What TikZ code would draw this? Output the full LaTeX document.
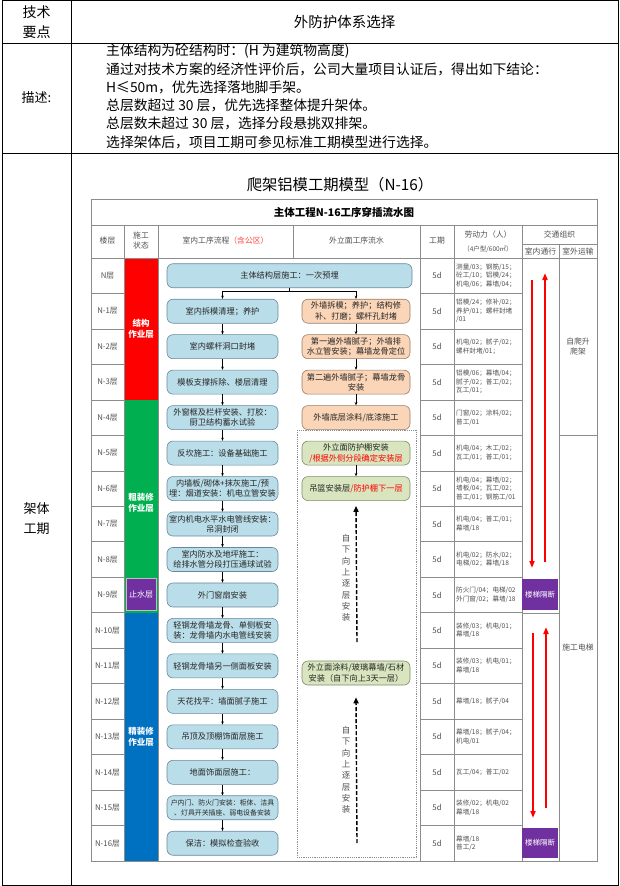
\documentclass[tikz,border=0pt]{standalone}
\usepackage{fontspec}
\setmainfont{Noto Sans CJK SC}
\usetikzlibrary{arrows.meta,calc,positioning}
\definecolor{rulec}{RGB}{140,140,140}
\definecolor{txt}{RGB}{80,80,80}
\definecolor{inbox}{RGB}{186,222,233}
\definecolor{inedge}{RGB}{105,135,155}
\definecolor{outbox}{RGB}{251,213,183}
\definecolor{outedge}{RGB}{150,125,105}
\definecolor{grbox}{RGB}{216,229,190}
\definecolor{gredge}{RGB}{125,140,105}
\definecolor{stred}{RGB}{255,0,0}
\definecolor{stgreen}{RGB}{0,176,80}
\definecolor{stblue}{RGB}{0,112,192}
\definecolor{stpurple}{RGB}{112,48,160}
\tikzset{
  outline/.style={black,line width=0.9pt},
  gline/.style={rulec,line width=0.6pt},
  cell/.style={font=\fontsize{7.8}{10}\selectfont,text=txt,align=center,inner sep=0pt},
  labour/.style={font=\fontsize{6.6}{8.6}\selectfont,text=txt,align=left,anchor=west,inner sep=0pt},
  flowbox/.style={draw=inedge,fill=inbox,rounded corners=6pt,line width=0.6pt,minimum width=111pt,minimum height=24pt,inner xsep=1pt,inner ysep=1pt,align=center,text=black!85,font=\fontsize{8.2}{10.5}\selectfont},
  outerbox/.style={flowbox,draw=outedge,fill=outbox,minimum width=108pt},
  greenbox/.style={flowbox,draw=gredge,fill=grbox,minimum width=108pt},
  arr/.style={-{Stealth[length=3.2pt,width=2.6pt]},black,line width=0.5pt},
  upward/.style={-{Triangle[length=6pt,width=5pt]},black,line width=1.4pt,dash pattern=on 4pt off 2pt},
  lane/.style={-{Triangle[length=7pt,width=5pt]},stred,line width=1.8pt},
  phase/.style={font=\fontsize{8.5}{11}\selectfont\bfseries,text=white,align=center,inner sep=0pt},
  stairs/.style={fill=stpurple,text=white,font=\fontsize{7.5}{9}\selectfont,inner sep=0pt,minimum width=36pt,minimum height=31pt},
  vtext/.style={font=\fontsize{8.5}{11.3}\selectfont,text=txt,align=center,inner sep=0pt},
  descline/.style={font=\fontsize{13.8}{16}\selectfont,anchor=west,inner sep=0pt},
}

\begin{document}
\begin{tikzpicture}[x=1pt,y=-1pt]
\useasboundingbox (0,0) rectangle (620,886);
% ---- outer table ----
\draw[outline] (2,0.5) rectangle (618,885);
\draw[outline] (2,43) -- (618,43);
\draw[outline] (2,153) -- (618,153);
\draw[outline] (71,0.5) -- (71,885);
\node[font=\fontsize{14}{20}\selectfont,align=center] (keypt) at (36.5,22) {技术\\要点};
\node[font=\fontsize{14.5}{18}\selectfont] (topic) at (344.5,22) {外防护体系选择};
\node[font=\fontsize{13}{18}\selectfont] (desc) at (36.5,98) {描述:};
\foreach \ln [count=\k] in {主体结构为砼结构时：(H 为建筑物高度),
  通过对技术方案的经济性评价后，公司大量项目认证后，得出如下结论：,
  H≤50m，优先选择落地脚手架。,
  总层数超过 30 层，优先选择整体提升架体。,
  总层数未超过 30 层，选择分段悬挑双排架。,
  选择架体后，项目工期可参见标准工期模型进行选择。}{
  \node[descline] (d\k) at (106,{32.8+18.2*\k}) {\ln};
}
\node[font=\fontsize{13}{20}\selectfont,align=center] (period) at (36.5,519) {架体\\工期};

% ---- inner chart ----
\def\rt{258}\def\rh{35.47}
\node[font=\fontsize{15.3}{18}\selectfont] (title) at (340,185) {爬架铝模工期模型（N-16）};
% status column
\fill[stred] (124,\rt) rectangle (158,{\rt+4*\rh});
\fill[stgreen] (124,{\rt+4*\rh}) rectangle (158,{\rt+10*\rh});
\fill[stblue] (124,{\rt+10*\rh}) rectangle (158,861);
\node[draw=white!75!black,line width=0.8pt,fill=stpurple,text=white,font=\fontsize{8}{10}\selectfont,inner sep=0pt,minimum width=30pt,minimum height=32pt] (seal) at (141,594) {止水层};
\node[phase] (s1) at (141,329) {结构\\作业层};
\node[phase] (s2) at (141,503) {粗装修\\作业层};
\node[phase] (s3) at (141,737) {精装修\\作业层};
% grid
\draw[gline] (91,199) rectangle (597,861);
\node[font=\fontsize{10.5}{12}\selectfont\bfseries] (chart) at (344,212) {主体工程N-16工序穿插流水图};
\draw[gline] (91,225) -- (597,225);
\draw[gline] (91,258) -- (597,258);
\foreach \x in {124,158,420,454,522} \draw[gline] (\x,225) -- (\x,861);
\draw[gline] (293,225) -- (293,258);
\draw[gline] (559,244) -- (559,861);
\draw[gline] (522,244) -- (597,244);
% header
\node[cell] (hfloor) at (107.5,241) {楼层};
\node[cell] (hstate) at (141,241) {施工\\状态};
\node[cell] (hin) at (225.5,241) {室内工序流程{\color{stred!75}（含公区）}};
\node[cell] (hout) at (356.5,241) {外立面工序流水};
\node[cell] (hdays) at (437,241) {工期};
\node[cell] (hlab) at (488,235) {劳动力（人）};
\node[cell,font=\fontsize{6.5}{8}\selectfont] (hlab2) at (488,249.5) {（4户型/600㎡）};
\node[cell] (htraf) at (559.5,234.5) {交通组织};
\node[cell] (hwalk) at (540.5,251.5) {室内通行};
\node[cell] (hhaul) at (578,251.5) {室外运输};

% rows: floor, duration, labour
\foreach \lab/\crew [count=\i from 0] in {%
  N层/{测量/03；钢筋/15；\\砼工/10；铝模/24；\\机电/06；幕墙/04；},
  N-1层/{铝模/24；修补/02；\\养护/01；螺杆封堵\\/01},
  N-2层/{机电/02；腻子/02；\\螺杆封堵/01；},
  N-3层/{铝模/06；幕墙/04；\\腻子/02；普工/02；\\瓦工/01；},
  N-4层/{门窗/02；涂料/02；\\普工/01},
  N-5层/{机电/04；木工/02；\\瓦工/01；普工/01；},
  N-6层/{机电/04；幕墙/02；\\墙板/04；瓦工/02；\\普工/01；钢筋工/01},
  N-7层/{机电/04；普工/01；\\幕墙/18},
  N-8层/{机电/02；防水/02；\\电梯/02；幕墙/18},
  N-9层/{防火门/04；电梯/02\\外门窗/02；幕墙/18},
  N-10层/{装修/03；机电/01；\\幕墙/18},
  N-11层/{装修/03；机电/01；\\幕墙/18},
  N-12层/{幕墙/18；腻子/04},
  N-13层/{幕墙/18；腻子/04；\\机电/01},
  N-14层/{瓦工/04；普工/02},
  N-15层/{装修/02；机电/02\\幕墙/18},
  N-16层/{幕墙/18\\普工/2}}{
  \pgfmathsetmacro{\yc}{\rt+(\i+0.5)*\rh}
  \pgfmathsetmacro{\yb}{\rt+(\i+1)*\rh}
  \node[cell] (fl\i) at (107.5,\yc) {\lab};
  \node[cell] (dy\i) at (437,\yc) {5d};
  \node[labour] (lb\i) at (456,\yc) {\crew};
  \draw[gline] (91,\yb) -- (124,\yb);
  \draw[gline] (420,\yb) -- (522,\yb);
}

% ---- indoor flow ----
\node[flowbox,minimum width=245pt] (in0) at (289.5,{\rt+0.5*\rh}) {主体结构层施工：一次预埋};
\foreach \txt [count=\i] in {室内拆模清理；养护, 室内螺杆洞口封堵, 模板支撑拆除、楼层清理,
  外窗框及栏杆安装、打胶：\\厨卫结构蓄水试验, 反坎施工：设备基础施工,
  内墙板/砌体+抹灰施工/预\\埋：烟道安装：机电立管安装, 室内机电水平水电管线安装：\\吊洞封闭,
  室内防水及地坪施工：\\给排水管分段打压通球试验, 外门窗扇安装,
  轻钢龙骨墙龙骨、单侧板安\\装：龙骨墙内水电管线安装, 轻钢龙骨墙另一侧面板安装,
  天花找平：墙面腻子施工, 吊顶及顶棚饰面层施工, 地面饰面层施工：,
  户内门、防火门安装：柜体、洁具\\、灯具开关插座、弱电设备安装, 保洁：模拟检查验收}{
  \pgfmathsetmacro{\yc}{\rt+(\i+0.5)*\rh}
  \ifnum\i=15 \def\fs{6.9}\else\def\fs{8.2}\fi
  \node[flowbox,font=\fontsize{\fs}{10.2}\selectfont] (in\i) at (222.5,\yc) {\txt};
}
\foreach \i [count=\j from 2] in {1,...,15} \draw[arr] (in\i) -- (in\j);

% ---- facade flow ----
\foreach \txt [count=\i] in {外墙拆模；养护；结构修\\补、打磨；螺杆孔封堵,
  第一遍外墙腻子；外墙排\\水立管安装；幕墙龙骨定位, 第二遍外墙腻子；幕墙龙骨\\安装,
  外墙底层涂料/底漆施工}{
  \pgfmathsetmacro{\yc}{\rt+(\i+0.5)*\rh}
  \node[outerbox] (out\i) at (356,\yc) {\txt};
}
\foreach \i [count=\j from 2] in {1,2,3} \draw[arr] (out\i) -- (out\j);
\coordinate (split) at ($(in0.south)+(0,3.5)$);
\draw[line width=0.5pt] (in0.south) -- (split);
\draw[arr] (split) -| (in1.north);
\draw[arr] (split) -| (out1.north);

\draw[rulec,line width=0.5pt,dash pattern=on 1.2pt off 1pt] (297,430) rectangle (416,857);
\node[greenbox] (out5) at (356,{\rt+5.5*\rh}) {外立面防护棚安装\\{\color{stred}/根据外侧分段确定安装层}};
\node[greenbox] (out6) at (356,{\rt+6.5*\rh}) {吊篮安装层{\color{stred}/防护棚下一层}};
\node[greenbox] (out11) at (356,673) {外立面涂料/玻璃幕墙/石材\\安装（自下向上3天一层）};
\draw[arr] (out5) -- (out6);
\coordinate (rise1) at (357,642);
\coordinate (rise2) at (357,843);
\draw[upward] (rise1) -- ($(out6.south)+(0,5)$);
\draw[upward] (rise2) -- ($(out11.south)+(0,12)$);
\node[vtext] (v1) at (346,578) {自\\下\\向\\上\\逐\\层\\安\\装};
\node[vtext] (v2) at (346,770) {自\\下\\向\\上\\逐\\层\\安\\装};

% ---- traffic ----
\coordinate (dn1a) at (532,280); \coordinate (dn1b) at (532,568);
\coordinate (up1a) at (545,562); \coordinate (up1b) at (545,273);
\coordinate (dn2a) at (533,633); \coordinate (dn2b) at (533,818);
\coordinate (up2a) at (546,808); \coordinate (up2b) at (546,627);
\draw[lane] (dn1a) -- (dn1b);
\draw[lane] (up1a) -- (up1b);
\draw[lane] (dn2a) -- (dn2b);
\draw[lane] (up2a) -- (up2b);
\node[stairs] (cut1) at (540,594.5) {楼梯隔断};
\node[stairs,minimum height=30pt] (cut2) at (540,843) {楼梯隔断};
\draw[gline] (522,613) -- (559,613);
\draw[gline] (559,{\rt+5*\rh}) -- (597,{\rt+5*\rh});
\node[cell] (climb) at (578,347) {自爬升\\爬架};
\node[cell] (lift) at (578,648) {施工电梯};
\end{tikzpicture}
\end{document}
